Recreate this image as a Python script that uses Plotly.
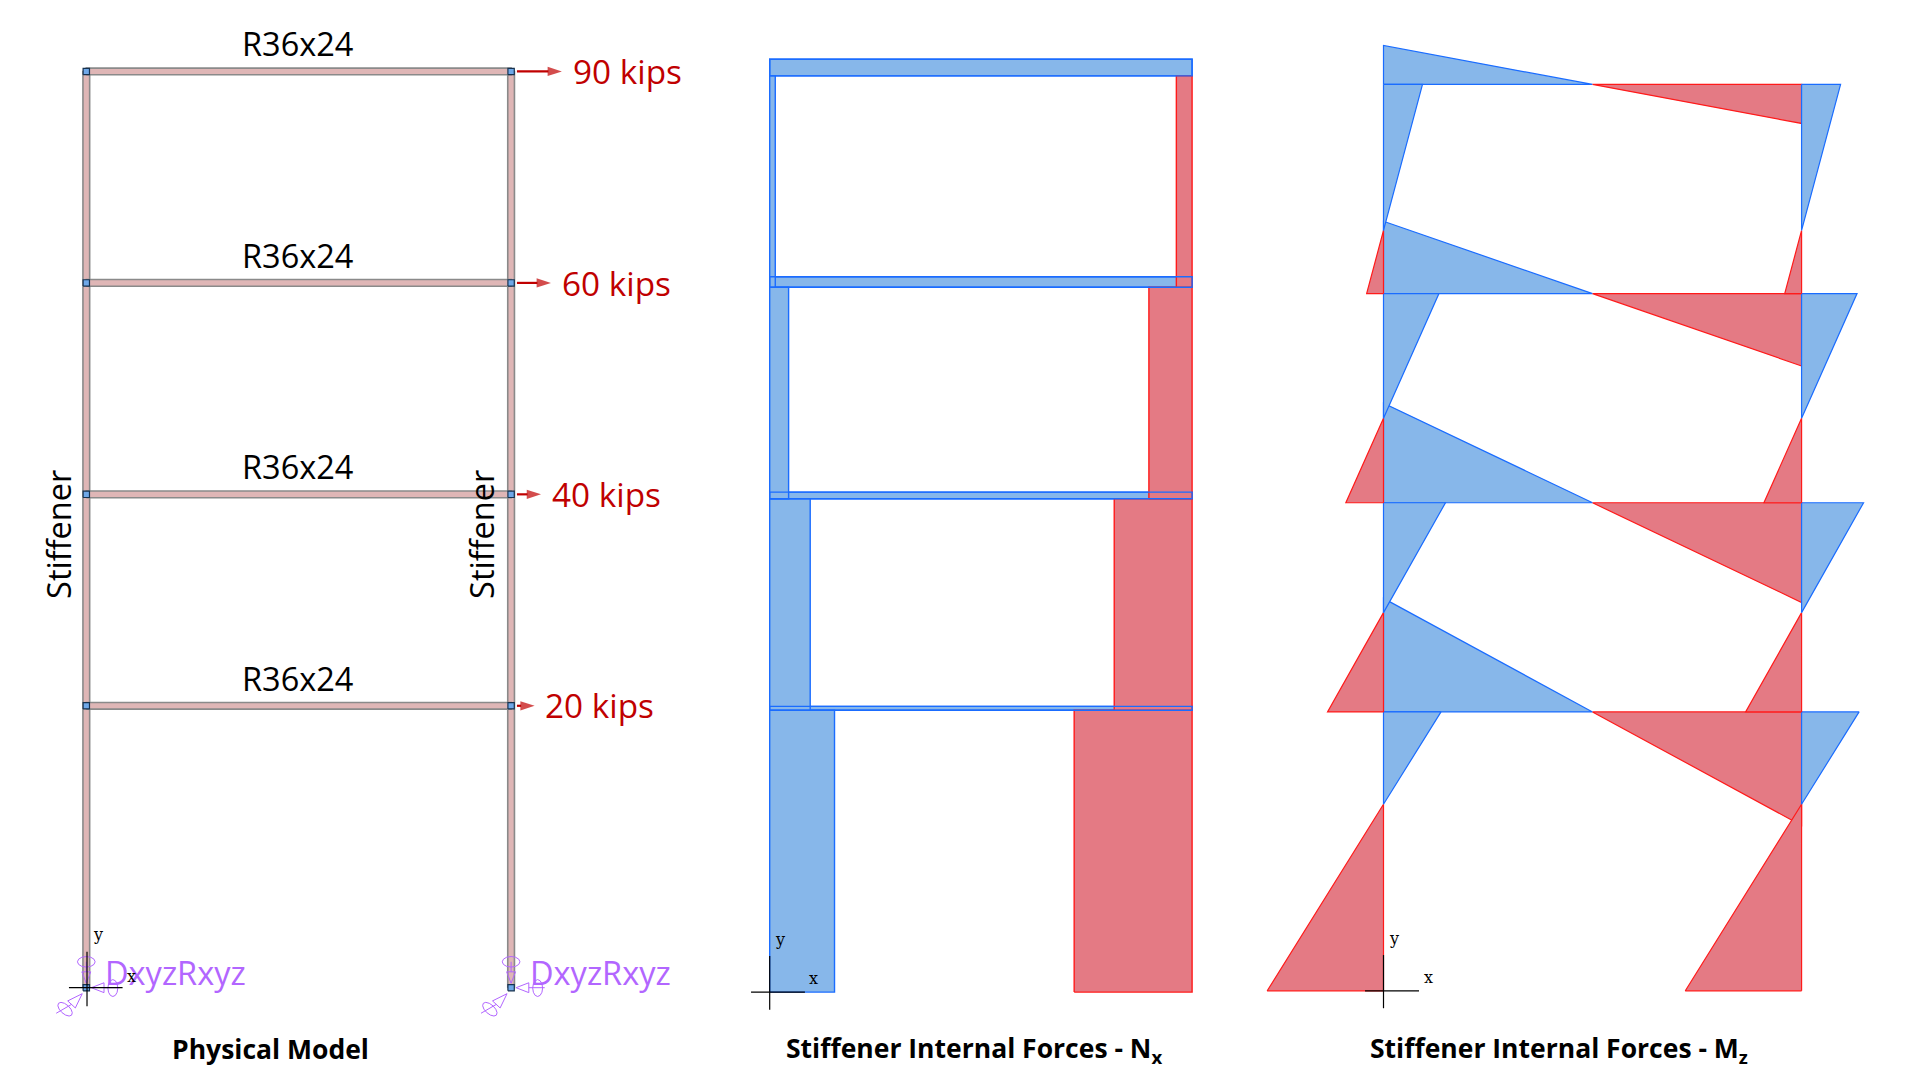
import math
import plotly.graph_objects as go

# ---- structure (ft) ----
FLOOR_Y = [16, 28, 40, 52]
STOREY_BASE = [0, 16, 28, 40]
BAY = 24

# ---- physical model ----
BEAM_LABEL = "R36x24"
LOADS_KIPS = [20, 40, 60, 90]
ARROW_LEN_FT = [1.0, 1.36, 1.92, 2.54]
SUPPORT_LABEL = "DxyzRxyz"
COLUMN_LABEL = "Stiffener"

# ---- axial force, kips (storey 1..4 from the base) ----
NX_LEFT = [144, 90, 42, 12.4]
NX_RIGHT = [262, 173, 96, 35]
NX_BEAM = [8.4, 14.7, 23.5, 37]
NX_KIPS_PER_FT = 39.1

# ---- moment, kip-ft (storey 1..4 from the base) ----
MZ_BOTTOM = [1124, 541, 364, 163]
MZ_TOP = [556, 599, 536, 377]
MZ_BEAM = [1097, 963, 699, 377]
MZ_KIPFT_PER_FT = 168.4

TITLES = ["Physical Model", "Stiffener Internal Forces - N<sub>x</sub>", "Stiffener Internal Forces - M<sub>z</sub>"]

BLUE_FILL, BLUE_LINE = "#87b7ea", "#1a6cff"
RED_FILL, RED_LINE = "#e47a84", "#ff1a1a"
MEMBER_FILL, MEMBER_LINE = "#dfb6b6", "#8a8a8a"
NODE_FILL = "#6fa8e8"
PURPLE = "#b266ff"
LOAD_RED = "#c00000"
TEXT_FONT = "Open Sans"
AXIS_FONT = "DejaVu Serif"

W, H = 1920, 1080
# px position of the model origin and px per ft for each panel
PANELS = [
    dict(x0=86.3, y0=987.7, sx=17.70, sy=17.62, px=(0, 700)),
    dict(x0=769.7, y0=992.1, sx=17.60, sy=17.62, px=(700, 1240)),
    dict(x0=1383.5, y0=990.8, sx=17.42, sy=17.43, px=(1240, 1920)),
]

fig = go.Figure()
layout = {}
for i, p in enumerate(PANELS):
    s = "" if i == 0 else str(i + 1)
    layout["xaxis" + s] = dict(domain=[p["px"][0] / W, p["px"][1] / W],
                               range=[(p["px"][0] - p["x0"]) / p["sx"], (p["px"][1] - p["x0"]) / p["sx"]],
                               visible=False, fixedrange=True)
    layout["yaxis" + s] = dict(domain=[0, 1], anchor="x" + s,
                               range=[(p["y0"] - H) / p["sy"], p["y0"] / p["sy"]],
                               visible=False, fixedrange=True)


def poly(panel, xs, ys, fill, line, width=1.4):
    s = "" if panel == 0 else str(panel + 1)
    fig.add_trace(go.Scatter(x=list(xs) + [xs[0]], y=list(ys) + [ys[0]], mode="lines", fill="toself" if fill else None,
                             fillcolor=fill, line=dict(color=line, width=width),
                             xaxis="x" + s, yaxis="y" + s, hoverinfo="skip", showlegend=False))


def seg(panel, xs, ys, color, width=1.2):
    s = "" if panel == 0 else str(panel + 1)
    fig.add_trace(go.Scatter(x=xs, y=ys, mode="lines", line=dict(color=color, width=width),
                             xaxis="x" + s, yaxis="y" + s, hoverinfo="skip", showlegend=False))


def label(panel, x, y, text, size, color="#000000", font=TEXT_FONT, xanchor="center", angle=0, bold=False):
    s = "" if panel == 0 else str(panel + 1)
    if bold:
        text = "<b>" + text + "</b>"
    fig.add_annotation(x=x, y=y, xref="x" + s, yref="y" + s, text=text, showarrow=False, textangle=angle,
                       xanchor=xanchor, yanchor="middle", font=dict(size=size, color=color, family=font))


def ring(cx, cy, ra, rb, rot=0.0):
    xs, ys = [], []
    for k in range(13):
        t = 2 * math.pi * k / 12
        u, v = ra * math.cos(t), rb * math.sin(t)
        xs.append(cx + u * math.cos(rot) - v * math.sin(rot))
        ys.append(cy + u * math.sin(rot) + v * math.cos(rot))
    seg(0, xs, ys, PURPLE, 1)


# ========== Panel 1: physical model ==========
hw = 0.19
for cx in (0, BAY):
    poly(0, [cx - hw, cx + hw, cx + hw, cx - hw], [0, 0, FLOOR_Y[-1], FLOOR_Y[-1]], MEMBER_FILL, MEMBER_LINE, 1.6)
for fy in FLOOR_Y:
    poly(0, [0, BAY, BAY, 0], [fy - hw, fy - hw, fy + hw, fy + hw], MEMBER_FILL, MEMBER_LINE, 1.6)
    label(0, 11.93, fy + 1.56, BEAM_LABEL, 32.5)
for load, fy, a in zip(LOADS_KIPS, FLOOR_Y, ARROW_LEN_FT):
    fig.add_trace(go.Scatter(x=[BAY + 0.33, BAY + 0.33 + a], y=[fy, fy], mode="lines+markers",
                             line=dict(color=LOAD_RED, width=2.2),
                             marker=dict(symbol="arrow", size=[0, 15], angleref="previous",
                                         color=LOAD_RED, line=dict(width=0)),
                             xaxis="x", yaxis="y", hoverinfo="skip", showlegend=False))
    label(0, BAY + 0.33 + a + 0.5, fy + 0.02, f"{load} kips", 33.3, LOAD_RED, xanchor="left")
nd = 0.18
for cx in (0, BAY):
    for fy in [0] + FLOOR_Y:
        poly(0, [cx - nd, cx + nd, cx + nd, cx - nd], [fy - nd, fy - nd, fy + nd, fy + nd], NODE_FILL, "#17324f", 1.2)
    # fixed-support glyphs
    ring(cx, 1.47, 0.5, 0.3)
    seg(0, [cx, cx], [1.47, 0.9], PURPLE, 1)
    poly(0, [cx - 0.25, cx + 0.25, cx], [0.9, 0.9, 0.25], None, PURPLE, 1)
    poly(0, [cx + 0.28, cx + 1.0, cx + 1.0], [0, 0.28, -0.28], None, PURPLE, 1)
    seg(0, [cx + 1.0, cx + 1.9], [0, 0], PURPLE, 1)
    ring(cx + 1.5, -0.02, 0.28, 0.48)
    poly(0, [cx - 0.23, cx - 1.05, cx - 0.62], [-0.34, -0.75, -1.15], None, PURPLE, 1)
    seg(0, [cx - 0.84, cx - 1.7], [-0.95, -1.45], PURPLE, 1)
    ring(cx - 1.2, -1.22, 0.5, 0.26, 2.4)
    label(0, cx + 0.93, 0.86, SUPPORT_LABEL, 32.5, PURPLE, xanchor="left")
label(0, -1.54, 25.7, COLUMN_LABEL, 32.5, angle=-90)
label(0, 22.36, 25.7, COLUMN_LABEL, 32.5, angle=-90)
label(0, 10.4, -3.46, TITLES[0], 26.5, bold=True)
seg(0, [-0.98, 2.05], [0, 0], "#000000")
seg(0, [0.04, 0.04], [2.04, -1.05], "#000000")
label(0, 0.68, 3.0, "y", 16, font=AXIS_FONT)
label(0, 2.58, 0.66, "x", 16, font=AXIS_FONT)

# ========== Panel 2: axial force ==========
for fy, nb in zip(FLOOR_Y, NX_BEAM):
    d = nb / NX_KIPS_PER_FT
    poly(1, [0, BAY, BAY, 0], [fy, fy, fy + d, fy + d], BLUE_FILL, BLUE_LINE)
for y0, nl, nr, fy in zip(STOREY_BASE, NX_LEFT, NX_RIGHT, FLOOR_Y):
    a, b = nl / NX_KIPS_PER_FT, nr / NX_KIPS_PER_FT
    poly(1, [0, a, a, 0], [y0, y0, fy, fy], BLUE_FILL, BLUE_LINE)
    poly(1, [BAY - b, BAY, BAY, BAY - b], [y0, y0, fy, fy], RED_FILL, RED_LINE)
for fy, nb in zip(FLOOR_Y, NX_BEAM):
    d = nb / NX_KIPS_PER_FT
    poly(1, [0, BAY, BAY, 0], [fy, fy, fy + d, fy + d], None, BLUE_LINE)
seg(1, [-1.06, 2.0], [0, 0], "#000000")
seg(1, [0, 0], [2.05, -1.0], "#000000")
label(1, 0.58, 3.0, "y", 16, font=AXIS_FONT)
label(1, 2.5, 0.75, "x", 16, font=AXIS_FONT)
label(1, 11.6, -3.23, TITLES[1], 26.5, bold=True)

# ========== Panel 3: moment ==========
for fy, m in zip(FLOOR_Y, MZ_BEAM):
    d = m / MZ_KIPFT_PER_FT
    poly(2, [0, BAY / 2, 0], [fy, fy, fy + d], BLUE_FILL, BLUE_LINE, 1.2)
    poly(2, [BAY / 2, BAY, BAY], [fy, fy, fy - d], RED_FILL, RED_LINE, 1.2)
for y0, fy, mb, mt in zip(STOREY_BASE, FLOOR_Y, MZ_BOTTOM, MZ_TOP):
    t, b = mt / MZ_KIPFT_PER_FT, mb / MZ_KIPFT_PER_FT
    zero = fy - (fy - y0) * mt / (mt + mb)
    for cx in (0, BAY):
        poly(2, [cx, cx - b, cx], [y0, y0, zero], RED_FILL, RED_LINE, 1.2)
        poly(2, [cx, cx + t, cx], [fy, fy, zero], BLUE_FILL, BLUE_LINE, 1.2)
seg(2, [-1.06, 2.04], [0, 0], "#000000")
seg(2, [0, 0], [2.05, -1.0], "#000000")
label(2, 0.6, 3.0, "y", 16, font=AXIS_FONT)
label(2, 2.6, 0.77, "x", 16, font=AXIS_FONT)
label(2, 10.06, -3.34, TITLES[2], 26.5, bold=True)

fig.update_layout(width=W, height=H, margin=dict(l=0, r=0, t=0, b=0), paper_bgcolor="white",
                  plot_bgcolor="white", showlegend=False, **layout)
fig.write_html("out.html", post_script="document.body.style.margin='0';", config={"displayModeBar": False})
